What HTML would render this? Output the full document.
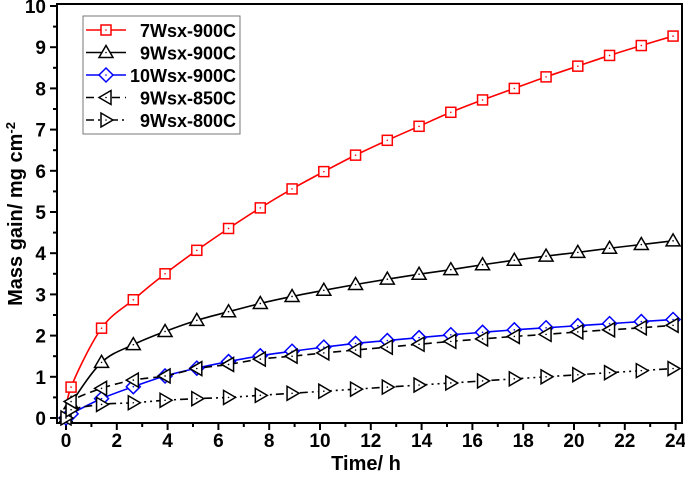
<!DOCTYPE html>
<html><head><meta charset="utf-8"><style>
body{margin:0;background:#fff}
svg text{font-family:"Liberation Sans",Arial,sans-serif;font-weight:bold}
</style></head><body>
<svg id="c" width="685" height="475">
<rect x="57" y="4" width="625" height="419" fill="none" stroke="#000" stroke-width="2"/>
<g id="ax"></g><g id="series"></g>
<text x="366" y="470" font-size="20" text-anchor="middle">Time/ h</text>
<text transform="translate(22,214) rotate(-90)" font-size="20" text-anchor="middle">Mass gain/ mg cm<tspan dy="-7" font-size="13">-2</tspan></text>
<g id="legend"></g>
</svg>
<script>
const times=[0,0.2,1.4,2.65,3.9,5.15,6.4,7.65,8.9,10.15,11.4,12.65,13.9,15.15,16.4,17.65,18.9,20.15,21.4,22.65,23.9];
const s7W900=[0,0.75,2.18,2.87,3.5,4.07,4.6,5.1,5.56,5.98,6.38,6.74,7.08,7.42,7.72,8.0,8.28,8.54,8.8,9.04,9.27];
const s9W900=[0,0.35,1.35,1.78,2.1,2.37,2.58,2.78,2.95,3.1,3.24,3.37,3.49,3.6,3.72,3.83,3.93,4.02,4.12,4.21,4.3];
const s10W900=[0,0.1,0.47,0.76,1.02,1.21,1.37,1.51,1.62,1.72,1.81,1.88,1.95,2.02,2.08,2.14,2.19,2.24,2.29,2.34,2.39];
const s9W850=[0,0.4,0.72,0.92,1.02,1.2,1.3,1.43,1.5,1.58,1.65,1.72,1.79,1.86,1.92,1.98,2.03,2.09,2.14,2.19,2.25];
const s9W800=[0,0.2,0.33,0.37,0.43,0.47,0.5,0.55,0.6,0.65,0.7,0.75,0.8,0.85,0.9,0.95,1.0,1.05,1.1,1.15,1.2];
const xTicks=[0,2,4,6,8,10,12,14,16,18,20,22,24];
const yTicks=[0,1,2,3,4,5,6,7,8,9,10];
const labels=["7Wsx-900C","9Wsx-900C","10Wsx-900C","9Wsx-850C","9Wsx-800C"];
const NS="http://www.w3.org/2000/svg";
const X=v=>66+v*25.4, Y=v=>418-v*41.2;
function mk(t,a,p){const e=document.createElementNS(NS,t);for(const k in a)e.setAttribute(k,a[k]);p.appendChild(e);return e;}
const ax=document.getElementById('ax');
xTicks.forEach(t=>{mk('line',{x1:X(t),x2:X(t),y1:423,y2:430,stroke:'#000','stroke-width':2},ax);
 if(t<24)mk('line',{x1:X(t+1),x2:X(t+1),y1:423,y2:427,stroke:'#000','stroke-width':2},ax);
 const e=mk('text',{x:X(t),y:447,'font-size':19,'text-anchor':'middle'},ax);e.textContent=t;
 
 });
yTicks.forEach(t=>{mk('line',{x1:50,x2:57,y1:Y(t),y2:Y(t),stroke:'#000','stroke-width':2},ax);
 if(t<10)mk('line',{x1:53,x2:57,y1:Y(t+0.5),y2:Y(t+0.5),stroke:'#000','stroke-width':2},ax);
 const e=mk('text',{x:46,y:Y(t)+7,'font-size':19,'text-anchor':'end'},ax);e.textContent=t;
 
 });
const defs=[
 {d:s7W900,c:'#f00',m:'sq',dash:''},
 {d:s9W900,c:'#000',m:'up',dash:''},
 {d:s10W900,c:'#00f',m:'di',dash:''},
 {d:s9W850,c:'#000',m:'lt',dash:'8,5'},
 {d:s9W800,c:'#000',m:'rt',dash:'8,4,2,4,2,4'}];
function marker(g,m,x,y,c){
 let p;
 if(m==='sq')p=mk('rect',{x:x-5,y:y-5,width:10,height:10},g);
 else if(m==='di')p=mk('polygon',{points:`${x},${y-7} ${x+7},${y} ${x},${y+7} ${x-7},${y}`},g);
 else if(m==='up')p=mk('polygon',{points:`${x},${y-7} ${x+7},${y+5} ${x-7},${y+5}`},g);
 else if(m==='lt')p=mk('polygon',{points:`${x-7},${y} ${x+5},${y-7} ${x+5},${y+7}`},g);
 else p=mk('polygon',{points:`${x+7},${y} ${x-5},${y-7} ${x-5},${y+7}`},g);
 p.setAttribute('fill','#fff');p.setAttribute('stroke',c);p.setAttribute('stroke-width',1.5);
 mk('circle',{cx:x,cy:y,r:0.8,fill:c},g);
}
function smooth(pts){
 let d='M'+pts[0][0]+','+pts[0][1];
 for(let i=0;i<pts.length-1;i++){
  const p0=pts[Math.max(0,i-1)],p1=pts[i],p2=pts[i+1],p3=pts[Math.min(pts.length-1,i+2)];
  const c1x=p1[0]+(p2[0]-p0[0])/6,c1y=p1[1]+(p2[1]-p0[1])/6;
  const c2x=p2[0]-(p3[0]-p1[0])/6,c2y=p2[1]-(p3[1]-p1[1])/6;
  d+=` C${c1x},${c1y} ${c2x},${c2y} ${p2[0]},${p2[1]}`;
 }
 return d;
}
const sg=document.getElementById('series');
defs.forEach((s,i)=>{
 const g=mk('g',{},sg);
 
 
 mk('path',{d:smooth(s.d.map((v,j)=>[X(times[j]),Y(v)])),fill:'none',stroke:s.c,'stroke-width':1.6,'stroke-dasharray':s.dash},g);
 s.d.forEach((v,j)=>marker(g,s.m,X(times[j]),Y(v),s.c));
});
const lg=document.getElementById('legend');
mk('rect',{x:83,y:16,width:157,height:118,fill:'#fff',stroke:'#777','stroke-width':1},lg);
defs.forEach((s,i)=>{
 const y=30+i*22.5;
 const g=mk('g',{},lg);
 
 
 mk('line',{x1:86,x2:126,y1:y,y2:y,stroke:s.c,'stroke-width':1.6,'stroke-dasharray':s.dash},g);
 marker(g,s.m,106,y,s.c);
 const t=mk('text',{x:236,y:y+7,'font-size':18,'text-anchor':'end'},g);t.textContent=labels[i];
});
</script>
</body></html>
